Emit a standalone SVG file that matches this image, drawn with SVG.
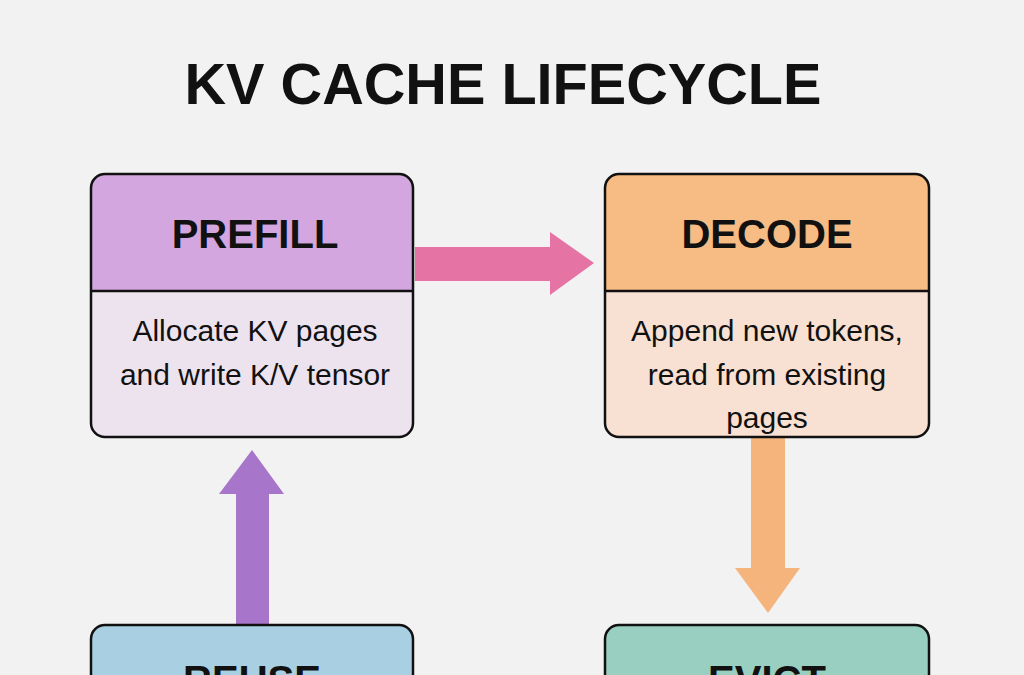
<svg xmlns="http://www.w3.org/2000/svg" width="1024" height="675" viewBox="0 0 1024 675">
<style>
.title{font-family:"Liberation Sans",Arial,sans-serif;font-weight:bold;font-size:58px;fill:#111;text-anchor:middle}
.head{font-family:"Liberation Sans",Arial,sans-serif;font-weight:bold;font-size:40px;fill:#111;text-anchor:middle}
.body{font-family:"Liberation Sans",Arial,sans-serif;font-size:30px;fill:#111;text-anchor:middle}
.outline{fill:none;stroke:#111;stroke-width:2.5}
.div{stroke:#111;stroke-width:2.5}
</style>
<rect width="1024" height="675" fill="#f3f2f2"/>
<text class="title" x="503" y="104" textLength="637" lengthAdjust="spacingAndGlyphs">KV CACHE LIFECYCLE</text>

<g id="connectors">
  <polygon points="415,247 550,247 550,232 594,263 550,295 550,281 415,281" fill="#e573a4"/>
  <polygon points="751,438 785,438 785,568 800,568 768,613 735,568 751,568" fill="#f4b47c"/>
  <polygon points="236,624 269,624 269,494 284,494 252,450 219,494 236,494" fill="#a775c9"/>
</g>

<g id="prefill">
  <rect x="91" y="174" width="322" height="263" rx="14" fill="#ede3ef"/>
  <path d="M91,291 V188 A14,14 0 0 1 105,174 H399 A14,14 0 0 1 413,188 V291 Z" fill="#d3a6e0"/>
  <line class="div" x1="91" y1="291" x2="413" y2="291"/>
  <rect class="outline" x="91" y="174" width="322" height="263" rx="14"/>
  <text class="head" x="255" y="248">PREFILL</text>
  <text class="body" x="255" y="341">Allocate KV pages</text>
  <text class="body" x="255" y="385">and write K/V tensor</text>
</g>

<g id="decode">
  <rect x="605" y="174" width="324" height="263" rx="14" fill="#f8e0d2"/>
  <path d="M605,291 V188 A14,14 0 0 1 619,174 H915 A14,14 0 0 1 929,188 V291 Z" fill="#f7bb84"/>
  <line class="div" x1="605" y1="291" x2="929" y2="291"/>
  <rect class="outline" x="605" y="174" width="324" height="263" rx="14"/>
  <text class="head" x="767" y="248">DECODE</text>
  <text class="body" x="767" y="341">Append new tokens,</text>
  <text class="body" x="767" y="385">read from existing</text>
  <text class="body" x="767" y="428">pages</text>
</g>

<g id="reuse">
  <rect x="91" y="625" width="322" height="263" rx="14" fill="#a9cfe2"/>
  <rect class="outline" x="91" y="625" width="322" height="263" rx="14"/>
  <text class="head" x="252" y="694">REUSE</text>
</g>

<g id="evict">
  <rect x="605" y="625" width="324" height="263" rx="14" fill="#99cfc0"/>
  <rect class="outline" x="605" y="625" width="324" height="263" rx="14"/>
  <text class="head" x="767" y="694">EVICT</text>
</g>
</svg>
